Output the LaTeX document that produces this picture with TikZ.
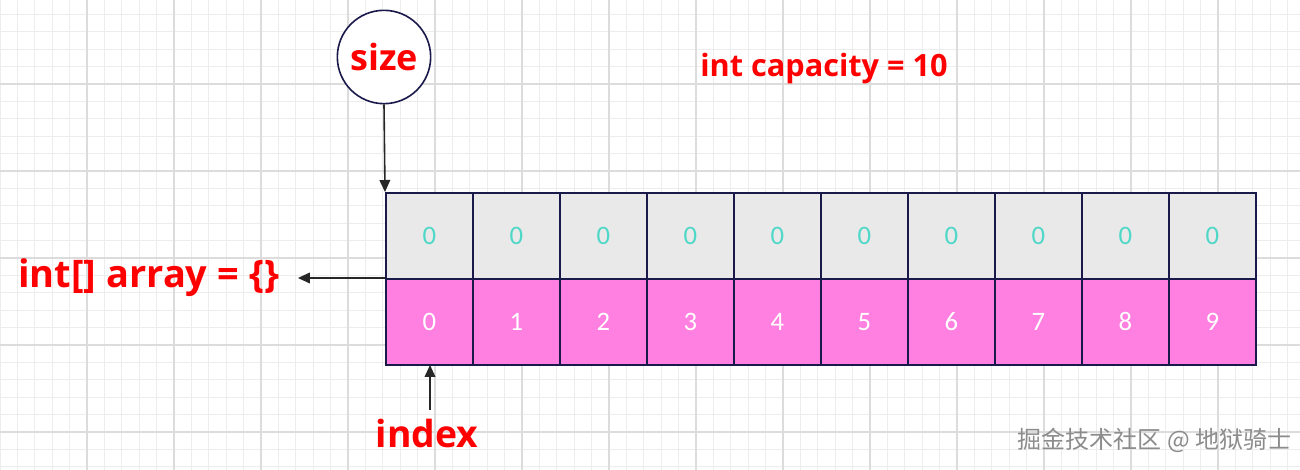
\documentclass[tikz,border=0pt]{standalone}
\usepackage{fontspec}
\setmainfont{Open Sans}
\newfontfamily\cellfont{Carlito}
\newfontfamily\cjk{Noto Sans CJK SC}
\usetikzlibrary{arrows.meta}
\definecolor{gridminor}{HTML}{EDEDED}
\definecolor{gridmajor}{HTML}{DCDCDC}
\definecolor{cellgray}{HTML}{E9E9E9}
\definecolor{cellpink}{HTML}{FF80E0}
\definecolor{teal0}{HTML}{4FD8C8}
\definecolor{navy}{HTML}{1A1A4A}
\definecolor{redtxt}{HTML}{FF0000}
\begin{document}
\begin{tikzpicture}[x=0.75pt,y=-0.75pt,
  cellbox/.style={draw=navy,line width=1.3pt,minimum width=65.25pt,minimum height=64.5pt,inner sep=0pt,font=\cellfont\fontsize{20}{22}\selectfont,anchor=north west},
  lbl/.style={text=redtxt,font=\bfseries\fontsize{28.5}{32}\selectfont},
  arr/.style={-{Triangle[length=9pt,width=8pt]},line width=1.2pt,black!85}]
\useasboundingbox (0,0) rectangle (1300,470);
\fill[white] (0,0) rectangle (1300,470);
\foreach \i in {0,...,75} {\draw[gridminor,line width=0.8pt] ({\i*17.4},0) -- ({\i*17.4},470);}
\foreach \i in {0,...,28} {\draw[gridminor,line width=0.8pt] (0,{\i*17.4-3}) -- (1300,{\i*17.4-3});}
\foreach \i in {1,...,15} {\draw[gridmajor,line width=1pt] ({\i*87},0) -- ({\i*87},470);}
\foreach \i in {1,...,5} {\draw[gridmajor,line width=1pt] (0,{\i*87-3}) -- (1300,{\i*87-3});}
\foreach \i in {0,...,9} {
  \node[cellbox,fill=cellgray,text=teal0] (t\i) at ({385+\i*87},192) {0};
  \node[cellbox,fill=cellpink,text=white] (b\i) at ({385+\i*87},278) {\i};
}
\node[draw=navy,fill=white,circle,line width=1.2pt,minimum size=70pt,inner sep=0pt,lbl,font=\bfseries\fontsize{27}{30}\selectfont] (size) at (384,57) {size};
\coordinate (topleft) at (385,192);
\draw[arr] (size.south) -- (topleft);
\node[lbl,anchor=west,inner sep=0pt] (arrlbl) at (18,278) {int[] array = \{\}};
\coordinate (mid) at (385,278);
\draw[arr] (mid) -- ([xshift=14pt]arrlbl.east);
\node[lbl,font=\bfseries\fontsize{28}{30}\selectfont] (index) at (427,433) {index};
\coordinate (idxtop) at (430,410);
\coordinate (botcell) at (430,365);
\draw[arr] (idxtop) -- (botcell);
\node[text=redtxt,font=\bfseries\fontsize{23}{26}\selectfont] (cap) at (824,69) {int capacity = 10};
\node[text=gray!90,font=\cjk\fontsize{18}{20}\selectfont,anchor=east] (wm) at (1296,440) {掘金技术社区 @ 地狱骑士};
\end{tikzpicture}
\end{document}
